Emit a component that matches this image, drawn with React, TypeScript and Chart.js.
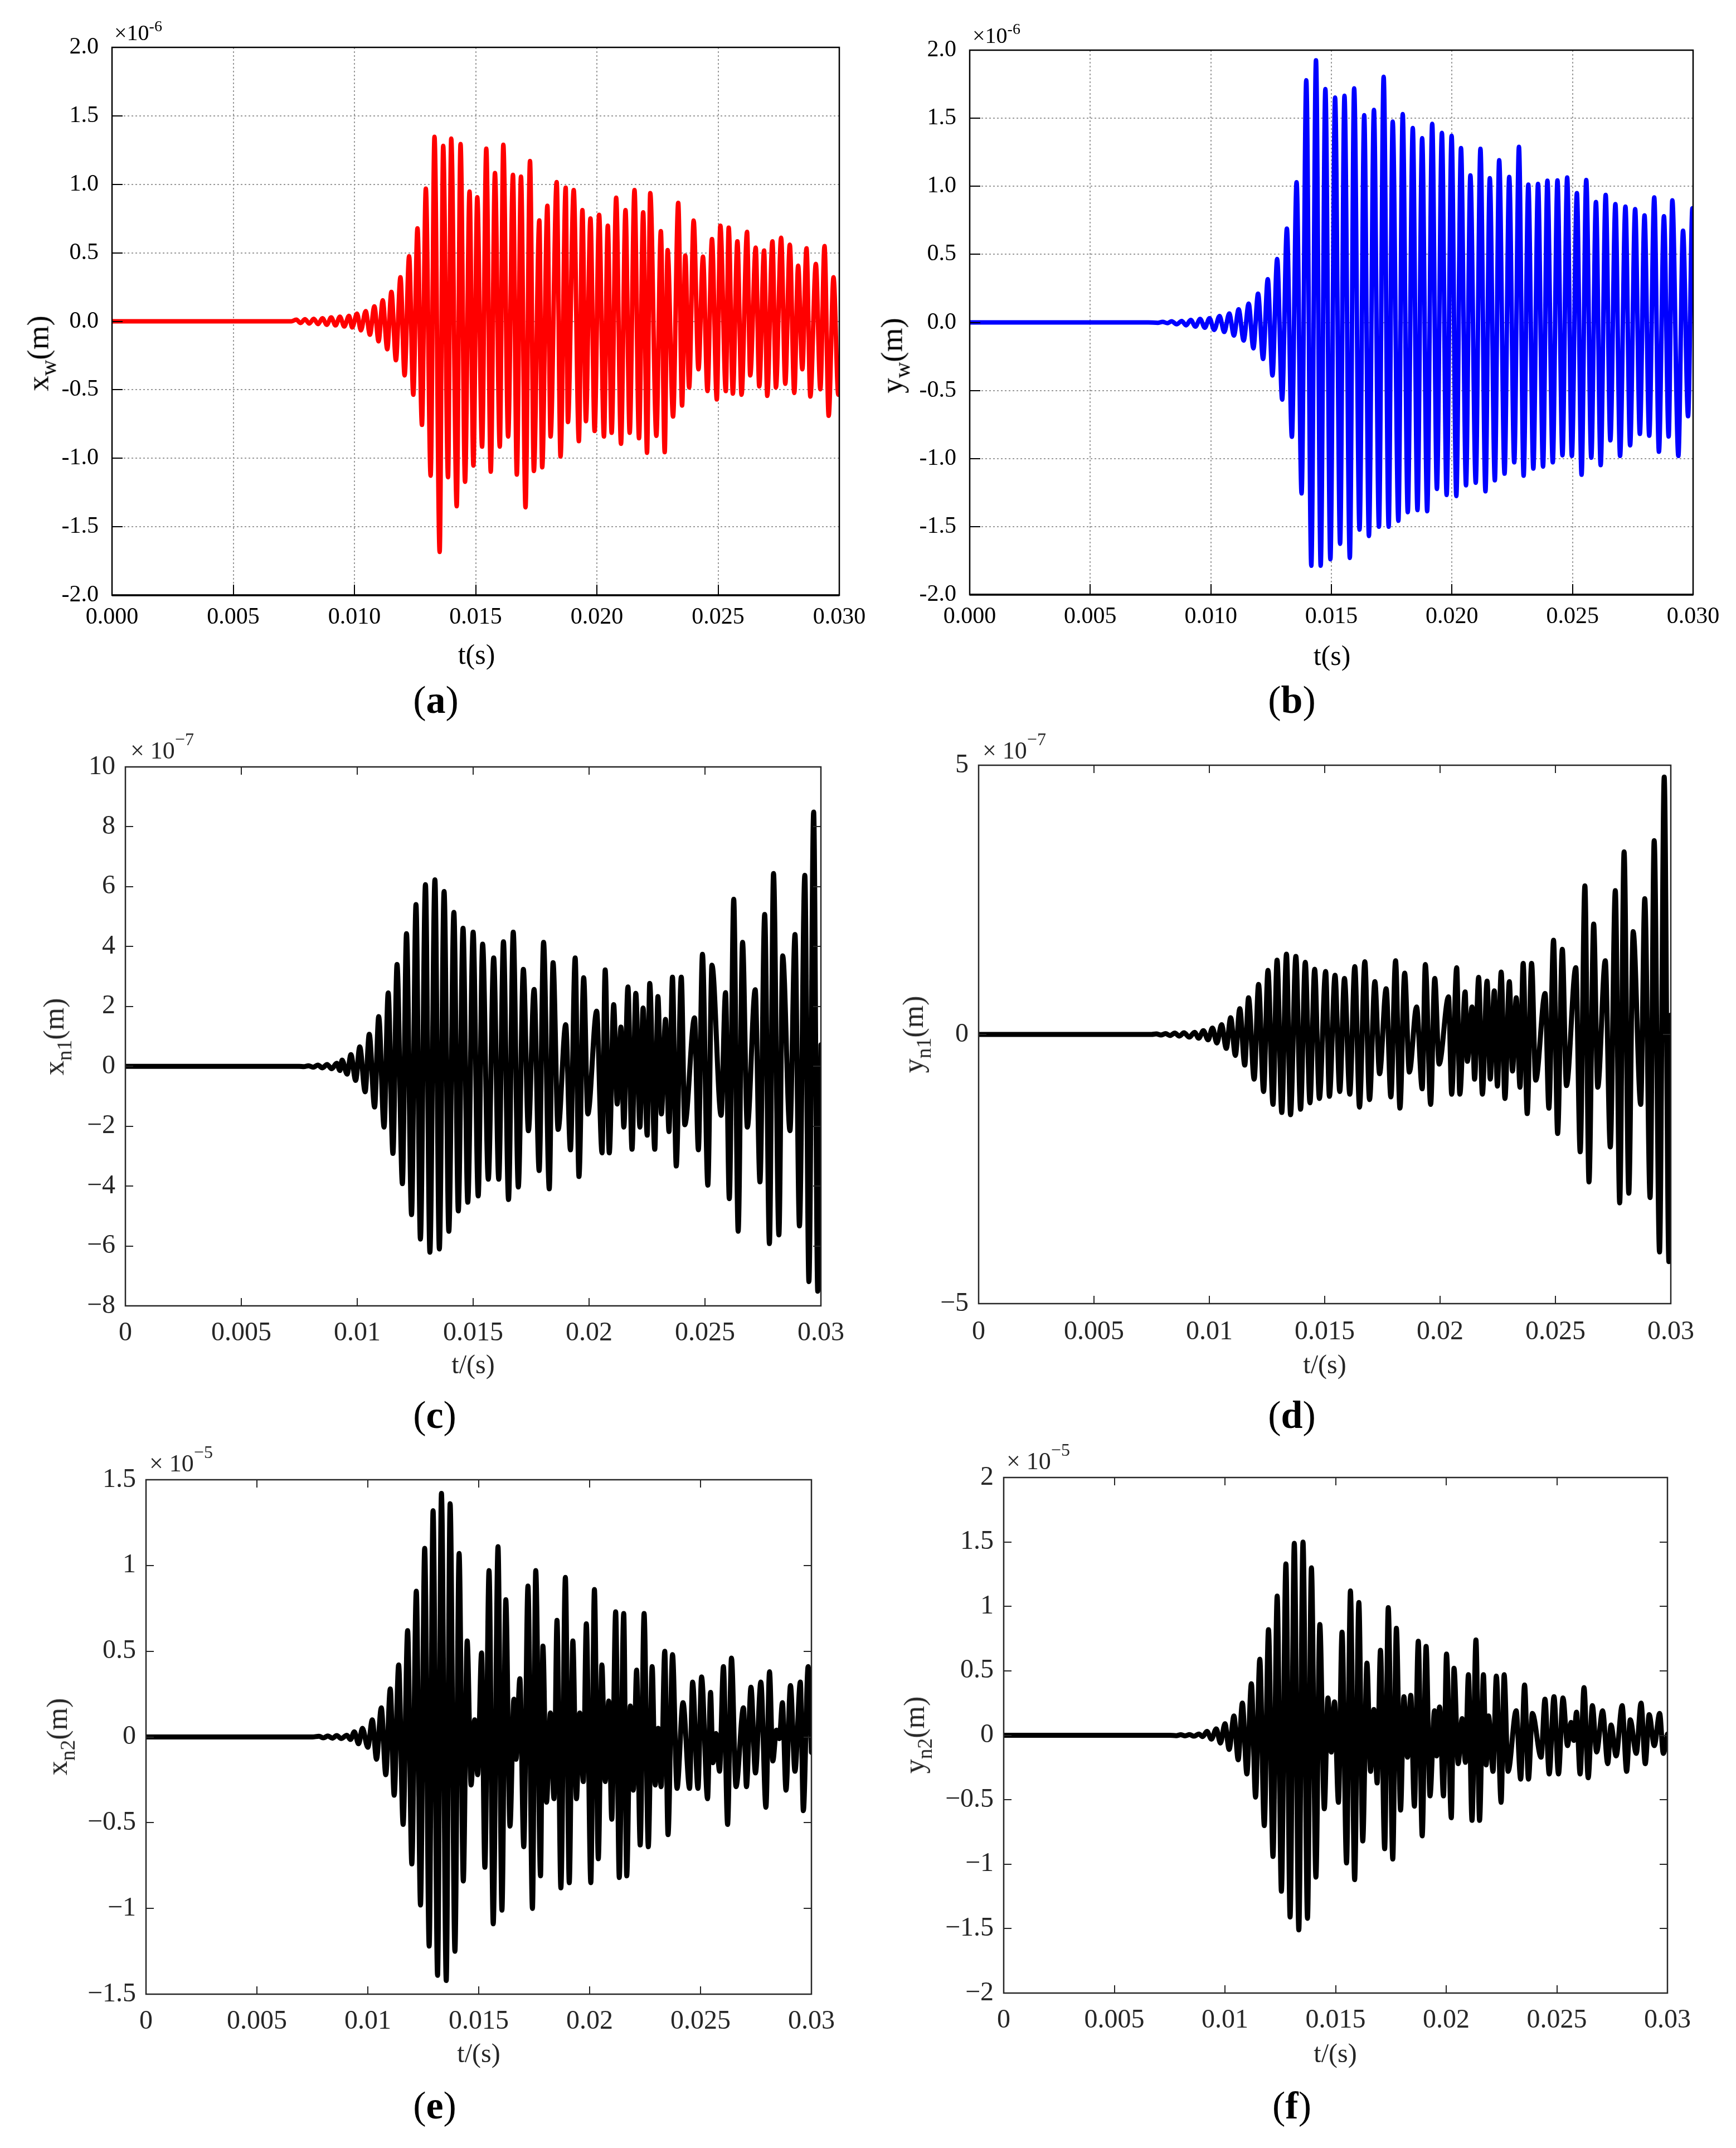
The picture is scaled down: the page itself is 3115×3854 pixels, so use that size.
import React, { useEffect, useRef } from 'react';
import { Chart, registerables } from 'chart.js';

Chart.register(...registerables);

const SERIF = "'Times New Roman', 'Liberation Serif', Tinos, serif";

// ---------- shared ticks ----------
const xTicks = [0, 0.005, 0.01, 0.015, 0.02, 0.025, 0.03];
const xLabelsAB = ['0.000', '0.005', '0.010', '0.015', '0.020', '0.025', '0.030'];
const xLabelsCF = ['0', '0.005', '0.01', '0.015', '0.02', '0.025', '0.03'];
const yTicksAB = [-2, -1.5, -1, -0.5, 0, 0.5, 1, 1.5, 2];
const yLabelsAB = ['-2.0', '-1.5', '-1.0', '-0.5', '0.0', '0.5', '1.0', '1.5', '2.0'];
const yTicksC = [-8, -6, -4, -2, 0, 2, 4, 6, 8, 10];
const yLabelsC = ['\u22128', '\u22126', '\u22124', '\u22122', '0', '2', '4', '6', '8', '10'];
const yTicksD = [-5, 0, 5];
const yLabelsD = ['\u22125', '0', '5'];
const yTicksE = [-1.5, -1, -0.5, 0, 0.5, 1, 1.5];
const yLabelsE = ['\u22121.5', '\u22121', '\u22120.5', '0', '0.5', '1', '1.5'];
const yTicksF = [-2, -1.5, -1, -0.5, 0, 0.5, 1, 1.5, 2];
const yLabelsF = ['\u22122', '\u22121.5', '\u22121', '\u22120.5', '0', '0.5', '1', '1.5', '2'];

// ---------- (a) x_w, units 1e-6 m ----------
const tXw = [0, 0.0074, 0.0076, 0.00778, 0.00796, 0.00814, 0.00832, 0.0085, 0.00868, 0.00886, 0.00904, 0.00922, 0.0094, 0.00958,
  0.009775, 0.009907, 0.010106, 0.010265, 0.010464, 0.010637, 0.010822, 0.010995, 0.011167, 0.011353, 0.011525, 0.011711,
  0.011897, 0.012069, 0.012255, 0.012427, 0.0126, 0.012785, 0.012944, 0.013143, 0.013302, 0.013515, 0.013661, 0.01386,
  0.013992, 0.014218, 0.014377, 0.014562, 0.014748, 0.014907, 0.015066, 0.015265, 0.015438, 0.015623, 0.015796, 0.015995,
  0.016141, 0.01634, 0.016539, 0.016698, 0.01687, 0.017056, 0.017242, 0.017401, 0.017626, 0.017745, 0.017958, 0.01809,
  0.018342, 0.018501, 0.018714, 0.018806, 0.019045, 0.019257, 0.019403, 0.019549, 0.019735, 0.019907, 0.020093, 0.020292,
  0.020451, 0.02061, 0.020796, 0.020995, 0.021181, 0.021353, 0.021552, 0.021738, 0.02191, 0.022069, 0.022202, 0.022454,
  0.022639, 0.022798, 0.022918, 0.023143, 0.023356, 0.023515, 0.023647, 0.023806, 0.023992, 0.024191, 0.024377, 0.024562,
  0.024748, 0.024947, 0.025093, 0.025318, 0.025438, 0.02561, 0.025796, 0.025968, 0.026194, 0.026326, 0.026552, 0.026698,
  0.026897, 0.027029, 0.027241, 0.027387, 0.0276, 0.027772, 0.027958, 0.028143, 0.028302, 0.028475, 0.028647, 0.028806,
  0.029032, 0.029218, 0.02939, 0.029562, 0.029761, 0.02996, 0.03];
const xw = [0, 0, 0.012, -0.012, 0.015, -0.016, 0.018, -0.02, 0.022, -0.025, 0.028, -0.03, 0.034, -0.038,
  0.04, -0.045, 0.056, -0.066, 0.074, -0.098, 0.109, -0.146, 0.154, -0.204, 0.215, -0.284,
  0.321, -0.395, 0.475, -0.536, 0.679, -0.756, 0.968, -1.127, 1.347, -1.684, 1.281, -1.138,
  1.334, -1.35, 1.294, -1.172, 0.947, -1.053, 0.905, -0.915, 1.26, -1.098, 1.082, -0.915,
  1.289, -0.841, 1.069, -1.119, 1.056, -1.358, 1.17, -1.093, 0.737, -1.066, 0.843, -0.841,
  1.016, -0.987, 0.976, -0.735, 0.958, -0.875, 0.812, -0.729, 0.751, -0.801, 0.777, -0.841,
  0.698, -0.814, 0.902, -0.894, 0.812, -0.814, 0.958, -0.854, 0.796, -0.96, 0.936, -0.836,
  0.658, -0.955, 0.52, -0.695, 0.865, -0.615, 0.48, -0.483, 0.735, -0.35, 0.472, -0.509,
  0.6, -0.57, 0.698, -0.509, 0.684, -0.528, 0.584, -0.536, 0.653, -0.395, 0.538, -0.475,
  0.517, -0.544, 0.584, -0.483, 0.61, -0.456, 0.56, -0.523, 0.406, -0.35, 0.533, -0.549,
  0.419, -0.496, 0.549, -0.69, 0.321, -0.536, -0.5];

// ---------- (b) y_w, units 1e-6 m ----------
const tYw = [0, 0.0074, 0.0078, 0.008, 0.0082,
  0.008375, 0.008583, 0.008792, 0.008972, 0.009167, 0.009361, 0.009556, 0.00975, 0.009944, 0.010139, 0.010361, 0.010556,
  0.010764, 0.010958, 0.011153, 0.011361, 0.011569, 0.011764, 0.011958, 0.012167, 0.012361, 0.012556, 0.01275, 0.012958,
  0.013153, 0.013361, 0.013556, 0.013764, 0.013958, 0.014167, 0.014361, 0.014556, 0.01475, 0.014958, 0.015153, 0.015361,
  0.015542, 0.015764, 0.015944, 0.016167, 0.016361, 0.016556, 0.016764, 0.016972, 0.017167, 0.017375, 0.017542, 0.017778,
  0.017958, 0.018167, 0.018375, 0.018569, 0.018764, 0.018972, 0.019181, 0.019375, 0.019583, 0.019778, 0.019986, 0.020181,
  0.020375, 0.020583, 0.020764, 0.020986, 0.021181, 0.021389, 0.021569, 0.021778, 0.021958, 0.022181, 0.022375, 0.022583,
  0.022778, 0.022972, 0.023167, 0.023375, 0.023569, 0.023778, 0.023958, 0.024181, 0.024375, 0.024583, 0.024778, 0.024972,
  0.025181, 0.025375, 0.025569, 0.025778, 0.025972, 0.026167, 0.026375, 0.026569, 0.026778, 0.026972, 0.027194, 0.027389,
  0.027597, 0.027792, 0.027986, 0.028181, 0.028389, 0.028583, 0.028792, 0.028986, 0.029139, 0.029389, 0.029583, 0.029792,
  0.029972, 0.03];
const yw = [0, 0, -0.003, 0.004, -0.005,
  0.008, -0.013, 0.01, -0.021, 0.018, -0.031, 0.026, -0.039, 0.031, -0.055, 0.047, -0.07,
  0.065, -0.096, 0.096, -0.133, 0.138, -0.19, 0.211, -0.268, 0.317, -0.39, 0.466, -0.567,
  0.689, -0.84, 1.03, -1.256, 1.779, -1.787, 1.925, -1.787, 1.714, -1.74, 1.652, -1.626,
  1.665, -1.73, 1.72, -1.522, 1.522, -1.569, 1.561, -1.501, 1.805, -1.501, 1.475, -1.457,
  1.53, -1.394, 1.428, -1.379, 1.353, -1.387, 1.459, -1.223, 1.392, -1.267, 1.371, -1.275,
  1.28, -1.197, 1.08, -1.178, 1.275, -1.241, 1.059, -1.16, 1.191, -1.111, 1.069, -1.028,
  1.29, -1.126, 1.012, -1.074, 1.017, -1.059, 1.041, -1.028, 1.043, -0.976, 1.064, -0.981,
  0.95, -1.119, 1.046, -0.994, 0.884, -1.048, 0.937, -0.866, 0.869, -0.981, 0.851, -0.903,
  0.832, -0.819, 0.786, -0.832, 0.918, -0.95, 0.78, -0.838, 0.897, -0.981, 0.674, -0.689,
  0.838, 0.8];

// ---------- (c) x_n1, units 1e-7 m ----------
const tXn1 = [0, 0.0075, 0.0077, 0.0079, 0.0081, 0.0083, 0.0085, 0.0087, 0.0089,
  0.009114, 0.009251, 0.009346, 0.009564, 0.009728, 0.009932, 0.010109, 0.010341, 0.010518, 0.010749, 0.010926, 0.011158,
  0.011335, 0.01154, 0.011717, 0.011948, 0.012125, 0.012343, 0.012534, 0.012725, 0.012943, 0.013134, 0.013351, 0.013542,
  0.013747, 0.013951, 0.014169, 0.01436, 0.014564, 0.014768, 0.015, 0.015218, 0.015409, 0.015654, 0.015886, 0.016104,
  0.016308, 0.016526, 0.01673, 0.016948, 0.017166, 0.017384, 0.017629, 0.017847, 0.018038, 0.018283, 0.018447, 0.018665,
  0.018992, 0.019196, 0.019401, 0.019564, 0.019768, 0.019946, 0.020327, 0.020559, 0.020695, 0.020872, 0.021063, 0.021213,
  0.021376, 0.021499, 0.021676, 0.021853, 0.022016, 0.022193, 0.02233, 0.022507, 0.022616, 0.022834, 0.02297, 0.02312,
  0.023297, 0.023447, 0.023597, 0.02376, 0.023978, 0.024128, 0.02455, 0.024714, 0.024891, 0.025123, 0.0253, 0.025695,
  0.025886, 0.026049, 0.02624, 0.026431, 0.026621, 0.026826, 0.027166, 0.027371, 0.027575, 0.027779, 0.027956, 0.028188,
  0.028352, 0.028665, 0.028883, 0.029074, 0.029306, 0.029482, 0.029687, 0.029864, 0.03];
const xn1 = [0, 0, -0.01, 0.02, -0.03, 0.04, -0.05, 0.06, -0.08,
  0.1, -0.14, 0.21, -0.26, 0.39, -0.47, 0.65, -0.85, 1.07, -1.36, 1.66, -2.03,
  2.45, -2.91, 3.4, -3.92, 4.43, -4.95, 5.4, -5.77, 6.07, -6.21, 6.23, -6.1,
  5.84, -5.51, 5.14, -4.83, 4.61, -4.54, 4.48, -4.33, 4.08, -3.77, 3.62, -3.77,
  4.16, -4.45, 4.48, -4.03, 3.24, -2.15, 2.57, -3.48, 4.14, -4.09, 3.46, -2.11,
  1.39, -2.79, 3.62, -3.68, 2.96, -1.59, 1.84, -2.89, 3.22, -2.89, 2.06, -1.26,
  1.31, -2.03, 2.65, -2.77, 2.44, -2.03, 1.95, -2.3, 2.77, -2.77, 2.33, -1.59,
  1.57, -2.18, 2.98, -3.33, 2.98, -1.95, 1.62, -2.79, 3.74, -3.97, 3.38, -1.64,
  2.46, -4.42, 5.58, -5.51, 4.14, -2.03, 2.56, -3.86, 5.07, -5.92, 6.44, -5.63,
  3.69, -2.15, 4.4, -5.33, 6.38, -7.19, 8.49, -7.51, 0.72];

// ---------- (d) y_n1, units 1e-7 m ----------
const tYn1 = [0, 0.0075, 0.0077, 0.0079, 0.0081, 0.0083, 0.0085, 0.0087, 0.0089,
  0.00913, 0.009361, 0.009538, 0.009742, 0.009946, 0.010136, 0.010326, 0.01053, 0.010734, 0.010924, 0.011128, 0.011318,
  0.011535, 0.011698, 0.011943, 0.012133, 0.012351, 0.012541, 0.012758, 0.012935, 0.013139, 0.013342, 0.013519, 0.01375,
  0.013954, 0.014158, 0.014361, 0.014565, 0.014769, 0.015041, 0.015204, 0.015448, 0.015652, 0.015856, 0.016087, 0.016304,
  0.016508, 0.016739, 0.016943, 0.017174, 0.017378, 0.017663, 0.017867, 0.018071, 0.018261, 0.018465, 0.018668, 0.018981,
  0.019226, 0.019361, 0.019592, 0.019769, 0.019959, 0.020367, 0.020503, 0.02072, 0.020856, 0.021087, 0.021182, 0.021386,
  0.021495, 0.021671, 0.021834, 0.022038, 0.022174, 0.022351, 0.022486, 0.022649, 0.022812, 0.023003, 0.023139, 0.023302,
  0.023465, 0.023601, 0.023777, 0.023967, 0.024144, 0.024552, 0.024715, 0.024918, 0.025095, 0.025299, 0.025476, 0.025883,
  0.026073, 0.026277, 0.026454, 0.026658, 0.026834, 0.02716, 0.027378, 0.027595, 0.027785, 0.027976, 0.028179, 0.02837,
  0.028696, 0.028872, 0.029103, 0.02928, 0.029511, 0.029715, 0.029918, 0.03];
const yn1 = [0, 0, 0.01, -0.01, 0.015, -0.02, 0.025, -0.03, 0.03,
  -0.05, 0.04, -0.07, 0.07, -0.1, 0.12, -0.16, 0.18, -0.26, 0.31, -0.39, 0.48,
  -0.57, 0.68, -0.83, 0.93, -1.06, 1.19, -1.3, 1.38, -1.45, 1.49, -1.49, 1.45,
  -1.39, 1.34, -1.27, 1.21, -1.19, 1.17, -1.15, 1.1, -1.06, 1.04, -1.11, 1.26,
  -1.35, 1.35, -1.21, 0.98, -0.73, 0.85, -1.16, 1.37, -1.37, 1.14, -0.7, 0.51,
  -1.01, 1.3, -1.3, 1.04, -0.55, 0.7, -1.11, 1.24, -1.11, 0.79, -0.5, 0.51,
  -0.83, 1.06, -1.11, 0.99, -0.83, 0.81, -0.96, 1.16, -1.19, 0.98, -0.68, 0.68,
  -0.98, 1.32, -1.47, 1.32, -0.85, 0.76, -1.37, 1.75, -1.84, 1.58, -0.95, 1.24,
  -2.18, 2.76, -2.74, 2.05, -0.98, 1.37, -2.09, 2.67, -3.13, 3.39, -2.95, 1.91,
  -1.3, 2.52, -3.03, 3.6, -4.04, 4.78, -4.22, 0.36];

// ---------- (e) x_n2, units 1e-5 m ----------
const tXn2 = [0, 0.0075, 0.0078, 0.008, 0.0082, 0.0084, 0.0086, 0.0088,
  0.009055, 0.009217, 0.009393, 0.009582, 0.009757, 0.01, 0.010202, 0.010391, 0.010607, 0.01081, 0.011012, 0.011188,
  0.01139, 0.011592, 0.011795, 0.011984, 0.012186, 0.012375, 0.012564, 0.012766, 0.012942, 0.013144, 0.01332, 0.013536,
  0.013711, 0.013927, 0.014116, 0.014305, 0.01448, 0.014656, 0.014818, 0.014953, 0.015128, 0.015277, 0.015465, 0.015654,
  0.01587, 0.016046, 0.016221, 0.01641, 0.016586, 0.01668, 0.016855, 0.017031, 0.01722, 0.017422, 0.017571, 0.017787,
  0.017894, 0.018057, 0.018232, 0.018394, 0.018529, 0.018704, 0.018907, 0.019082, 0.019244, 0.019406, 0.019554, 0.019716,
  0.019851, 0.020054, 0.020216, 0.020391, 0.020553, 0.020701, 0.020863, 0.020998, 0.021174, 0.021336, 0.021538, 0.021673,
  0.021835, 0.02197, 0.022118, 0.02228, 0.022456, 0.022645, 0.02282, 0.022955, 0.02309, 0.023225, 0.023387, 0.023535,
  0.023738, 0.02394, 0.02421, 0.024507, 0.024642, 0.024885, 0.025047, 0.025317, 0.025452, 0.02556, 0.025695, 0.025857,
  0.026032, 0.026221, 0.026396, 0.026599, 0.026936, 0.027071, 0.027274, 0.027476, 0.027719, 0.027948, 0.02811, 0.028259,
  0.028421, 0.028556, 0.028691, 0.028853, 0.029055, 0.029257, 0.0295, 0.029635, 0.029851, 0.03];
const xn2 = [0, 0, 0.004, -0.005, 0.006, -0.007, 0.008, -0.009,
  0.01, -0.015, 0.03, -0.04, 0.05, -0.06, 0.1, -0.13, 0.17, -0.22, 0.28, -0.34,
  0.42, -0.51, 0.62, -0.74, 0.85, -0.98, 1.1, -1.22, 1.32, -1.39, 1.42, -1.42,
  1.36, -1.25, 1.07, -0.84, 0.56, -0.28, 0.1, -0.22, 0.49, -0.76, 0.97, -1.09,
  1.11, -1.01, 0.8, -0.52, 0.22, -0.13, 0.34, -0.64, 0.88, -1.0, 0.97, -0.81,
  0.53, -0.38, 0.14, -0.36, 0.68, -0.88, 0.93, -0.85, 0.56, -0.36, 0.14, -0.26,
  0.66, -0.85, 0.86, -0.71, 0.42, -0.26, 0.21, -0.48, 0.73, -0.82, 0.72, -0.81,
  0.18, -0.31, 0.39, -0.63, 0.72, -0.64, 0.41, -0.28, 0.05, -0.29, 0.5, -0.57,
  0.48, -0.3, 0.2, -0.3, 0.32, -0.3, 0.35, -0.36, 0.26, -0.15, 0.02, -0.2,
  0.41, -0.51, 0.46, -0.29, 0.17, -0.29, 0.29, -0.21, 0.32, -0.41, 0.38, -0.14,
  0.04, -0.01, 0.2, -0.31, 0.3, -0.2, 0.32, -0.43, 0.41, -0.09];

// ---------- (f) y_n2, units 1e-5 m ----------
const tYn2 = [0, 0.0075, 0.0078, 0.008, 0.0082, 0.0084, 0.0086,
  0.008819, 0.008996, 0.009186, 0.009389, 0.009607, 0.009796, 0.01, 0.01019, 0.010407, 0.010597, 0.010787, 0.010991,
  0.011194, 0.011384, 0.011574, 0.011778, 0.011968, 0.012171, 0.012361, 0.012551, 0.012755, 0.012944, 0.013134, 0.013338,
  0.013528, 0.013731, 0.013908, 0.014111, 0.014288, 0.014491, 0.014654, 0.014803, 0.014953, 0.015129, 0.015292, 0.015495,
  0.015672, 0.015862, 0.016052, 0.016228, 0.016418, 0.016581, 0.01673, 0.016879, 0.017029, 0.017219, 0.017381, 0.017585,
  0.017748, 0.017938, 0.018087, 0.01825, 0.018399, 0.018562, 0.018738, 0.018915, 0.019091, 0.019268, 0.019471, 0.019566,
  0.019702, 0.019878, 0.020014, 0.020231, 0.020353, 0.020543, 0.02072, 0.020869, 0.021004, 0.021167, 0.021344, 0.021507,
  0.021683, 0.021805, 0.021914, 0.022117, 0.022266, 0.022483, 0.022619, 0.022795, 0.023162, 0.023365, 0.023542, 0.023718,
  0.023895, 0.024288, 0.024464, 0.024655, 0.024872, 0.025075, 0.025279, 0.025482, 0.025645, 0.025767, 0.025889, 0.026052,
  0.026229, 0.026418, 0.026608, 0.026798, 0.02707, 0.0273, 0.027449, 0.02768, 0.027952, 0.028155, 0.028318, 0.02859,
  0.028807, 0.028997, 0.029173, 0.029404, 0.029648, 0.029811, 0.03];
const yn2 = [0, 0, -0.003, 0.004, -0.004, 0.005, -0.007,
  0.01, -0.01, 0.03, -0.03, 0.05, -0.06, 0.09, -0.11, 0.15, -0.19, 0.25, -0.3,
  0.4, -0.48, 0.59, -0.7, 0.82, -0.94, 1.08, -1.21, 1.33, -1.41, 1.49, -1.51,
  1.5, -1.42, 1.3, -1.1, 0.86, -0.57, 0.29, -0.13, 0.26, -0.52, 0.8, -0.99,
  1.12, -1.12, 1.03, -0.82, 0.56, -0.28, 0.2, -0.37, 0.66, -0.88, 0.99, -0.96,
  0.83, -0.58, 0.3, -0.17, 0.31, -0.55, 0.73, -0.78, 0.69, -0.47, 0.19, -0.16,
  0.22, -0.47, 0.63, -0.64, 0.52, -0.22, 0.13, -0.21, 0.47, -0.66, 0.74, -0.66,
  0.47, -0.23, 0.15, -0.28, 0.46, -0.52, 0.47, -0.28, 0.19, -0.34, 0.39, -0.34,
  0.17, -0.17, 0.28, -0.3, 0.3, -0.3, 0.29, -0.08, 0.1, -0.04, 0.18, -0.3,
  0.37, -0.33, 0.23, -0.13, 0.19, -0.22, 0.08, -0.16, 0.23, -0.28, 0.12, -0.14,
  0.25, -0.22, 0.16, -0.08, 0.17, -0.14, 0.01];

// ---------- panel configuration ----------
type PanelCfg = {
  key: string;
  t: number[];
  v: number[];
  color: string;
  lw: number;
  L: number; R: number; T: number; B: number;
  yTicks: number[];
  yLabels: string[];
  xLabels: string[];
  grid: boolean;
  fs: number;
  textColor: string;
  frameColor: string;
  xPad: number;
  yPad: number;
  tickLen: number;
  allSides: boolean;
  exp: { x: number; base: number; main: string; sup: string; fs: number; sfs: number; raise: number };
  ytitle: { cx: number; cy: number; main: string; sub: string; fs: number };
  xtitle: { cx: number; cy: number; text: string; fs: number };
  label: { cx: number; cy: number; letter: string };
};

const panels: PanelCfg[] = [
  {
    key: 'a', t: tXw, v: xw, color: '#ff0000', lw: 8, L: 201, R: 1506, T: 85, B: 1068,
    yTicks: yTicksAB, yLabels: yLabelsAB, xLabels: xLabelsAB, grid: true, fs: 42, textColor: '#000', frameColor: '#000',
    xPad: 15, yPad: 24, tickLen: 19, allSides: false,
    exp: { x: 205, base: 72, main: '\u00d710', sup: '-6', fs: 40, sfs: 28, raise: 16 },
    ytitle: { cx: 68, cy: 634, main: 'x', sub: 'w', fs: 55 },
    xtitle: { cx: 855, cy: 1174, text: 't(s)', fs: 50 },
    label: { cx: 782, cy: 1256, letter: 'a' },
  },
  {
    key: 'b', t: tYw, v: yw, color: '#0000ff', lw: 8, L: 1740, R: 3038, T: 90, B: 1067,
    yTicks: yTicksAB, yLabels: yLabelsAB, xLabels: xLabelsAB, grid: true, fs: 42, textColor: '#000', frameColor: '#000',
    xPad: 15, yPad: 24, tickLen: 19, allSides: false,
    exp: { x: 1745, base: 77, main: '\u00d710', sup: '-6', fs: 40, sfs: 28, raise: 16 },
    ytitle: { cx: 1600, cy: 638, main: 'y', sub: 'w', fs: 55 },
    xtitle: { cx: 2390, cy: 1176, text: 't(s)', fs: 50 },
    label: { cx: 2318, cy: 1256, letter: 'b' },
  },
  {
    key: 'c', t: tXn1, v: xn1, color: '#000000', lw: 9, L: 225, R: 1473, T: 1376, B: 2343,
    yTicks: yTicksC, yLabels: yLabelsC, xLabels: xLabelsCF, grid: false, fs: 48, textColor: '#262626', frameColor: '#262626',
    xPad: 21, yPad: 18, tickLen: 14, allSides: true,
    exp: { x: 234, base: 1362, main: '\u00d7 10', sup: '\u22127', fs: 44, sfs: 32, raise: 24 },
    ytitle: { cx: 97, cy: 1860, main: 'x', sub: 'n1', fs: 52 },
    xtitle: { cx: 849, cy: 2448, text: 't/(s)', fs: 48 },
    label: { cx: 780, cy: 2539, letter: 'c' },
  },
  {
    key: 'd', t: tYn1, v: yn1, color: '#000000', lw: 9, L: 1756, R: 2998, T: 1373, B: 2339,
    yTicks: yTicksD, yLabels: yLabelsD, xLabels: xLabelsCF, grid: false, fs: 48, textColor: '#262626', frameColor: '#262626',
    xPad: 23, yPad: 18, tickLen: 14, allSides: true,
    exp: { x: 1763, base: 1362, main: '\u00d7 10', sup: '\u22127', fs: 44, sfs: 32, raise: 24 },
    ytitle: { cx: 1639, cy: 1856, main: 'y', sub: 'n1', fs: 52 },
    xtitle: { cx: 2377, cy: 2448, text: 't/(s)', fs: 48 },
    label: { cx: 2318, cy: 2539, letter: 'd' },
  },
  {
    key: 'e', t: tXn2, v: xn2, color: '#000000', lw: 9, L: 262, R: 1456, T: 2655, B: 3578,
    yTicks: yTicksE, yLabels: yLabelsE, xLabels: xLabelsCF, grid: false, fs: 48, textColor: '#262626', frameColor: '#262626',
    xPad: 21, yPad: 18, tickLen: 14, allSides: true,
    exp: { x: 268, base: 2641, main: '\u00d7 10', sup: '\u22125', fs: 44, sfs: 32, raise: 24 },
    ytitle: { cx: 103, cy: 3116, main: 'x', sub: 'n2', fs: 52 },
    xtitle: { cx: 859, cy: 3684, text: 't/(s)', fs: 48 },
    label: { cx: 780, cy: 3778, letter: 'e' },
  },
  {
    key: 'f', t: tYn2, v: yn2, color: '#000000', lw: 9, L: 1801, R: 2992, T: 2651, B: 3576,
    yTicks: yTicksF, yLabels: yLabelsF, xLabels: xLabelsCF, grid: false, fs: 48, textColor: '#262626', frameColor: '#262626',
    xPad: 21, yPad: 18, tickLen: 14, allSides: true,
    exp: { x: 1806, base: 2637, main: '\u00d7 10', sup: '\u22125', fs: 44, sfs: 32, raise: 24 },
    ytitle: { cx: 1641, cy: 3113, main: 'y', sub: 'n2', fs: 52 },
    xtitle: { cx: 2396, cy: 3684, text: 't/(s)', fs: 48 },
    label: { cx: 2318, cy: 3778, letter: 'f' },
  },
];

const YW = 200;
const PT = 80;
const PR = 90;
const XH = 110;

function PanelChart({ cfg }: { cfg: PanelCfg }) {
  const ref = useRef<HTMLCanvasElement>(null);
  const cw = cfg.R - cfg.L + YW + PR;
  const ch = cfg.B - cfg.T + PT + XH;

  useEffect(() => {
    const canvas = ref.current;
    if (!canvas) return;
    const yMin = cfg.yTicks[0];
    const yMax = cfg.yTicks[cfg.yTicks.length - 1];

    const framePlugin = {
      id: 'frame_' + cfg.key,
      beforeDatasetsDraw(chart: any) {
        if (!cfg.grid) return;
        const { ctx, chartArea: a, scales } = chart;
        ctx.save();
        ctx.strokeStyle = '#9a9a9a';
        ctx.lineWidth = 2;
        ctx.setLineDash([3, 4]);
        xTicks.forEach((v) => {
          const px = Math.round(scales.x.getPixelForValue(v));
          if (px <= a.left + 1 || px >= a.right - 1) return;
          ctx.beginPath();
          ctx.moveTo(px, a.top);
          ctx.lineTo(px, a.bottom);
          ctx.stroke();
        });
        cfg.yTicks.forEach((v) => {
          const py = Math.round(scales.y.getPixelForValue(v));
          if (py <= a.top + 1 || py >= a.bottom - 1) return;
          ctx.beginPath();
          ctx.moveTo(a.left, py);
          ctx.lineTo(a.right, py);
          ctx.stroke();
        });
        ctx.restore();
      },
      afterDatasetsDraw(chart: any) {
        const { ctx, chartArea: a, scales } = chart;
        ctx.save();
        ctx.setLineDash([]);
        ctx.strokeStyle = cfg.frameColor;
        ctx.lineWidth = 2.5;
        ctx.strokeRect(a.left, a.top, a.right - a.left, a.bottom - a.top);
        if (cfg.grid) {
          ctx.lineWidth = 3.5;
          ctx.beginPath();
          ctx.moveTo(a.left, a.bottom);
          ctx.lineTo(a.right, a.bottom);
          ctx.stroke();
        }
        ctx.lineWidth = 2;
        const L = cfg.tickLen;
        xTicks.forEach((v) => {
          const px = Math.round(scales.x.getPixelForValue(v));
          ctx.beginPath();
          ctx.moveTo(px, a.bottom);
          ctx.lineTo(px, a.bottom - L);
          if (cfg.allSides) {
            ctx.moveTo(px, a.top);
            ctx.lineTo(px, a.top + L);
          }
          ctx.stroke();
        });
        cfg.yTicks.forEach((v) => {
          const py = Math.round(scales.y.getPixelForValue(v));
          ctx.beginPath();
          ctx.moveTo(a.left, py);
          ctx.lineTo(a.left + L, py);
          if (cfg.allSides) {
            ctx.moveTo(a.right, py);
            ctx.lineTo(a.right - L, py);
          }
          ctx.stroke();
        });
        ctx.restore();
      },
    };

    const chart = new Chart(canvas, {
      type: 'line',
      data: {
        datasets: [
          {
            data: cfg.t.map((x, i) => ({ x, y: cfg.v[i] })),
            borderColor: cfg.color,
            borderWidth: cfg.lw,
            pointRadius: 0,
            fill: false,
            cubicInterpolationMode: 'monotone',
            borderJoinStyle: 'round',
            borderCapStyle: 'round',
          } as any,
        ],
      },
      options: {
        animation: false,
        responsive: false,
        devicePixelRatio: 1,
        layout: { padding: { top: PT, right: PR, left: 0, bottom: 0 } },
        plugins: { legend: { display: false }, tooltip: { enabled: false } },
        events: [],
        scales: {
          x: {
            type: 'linear',
            min: 0,
            max: 0.03,
            afterBuildTicks: (s: any) => {
              s.ticks = xTicks.map((value) => ({ value }));
            },
            afterFit: (s: any) => {
              s.height = XH;
            },
            grid: { display: false, drawTicks: false },
            border: { display: false },
            ticks: {
              autoSkip: false,
              maxRotation: 0,
              minRotation: 0,
              padding: cfg.xPad,
              color: cfg.textColor,
              font: { family: SERIF, size: cfg.fs },
              callback: (_v: any, i: number) => cfg.xLabels[i],
            },
          },
          y: {
            type: 'linear',
            min: yMin,
            max: yMax,
            afterBuildTicks: (s: any) => {
              s.ticks = cfg.yTicks.map((value) => ({ value }));
            },
            afterFit: (s: any) => {
              s.width = YW;
            },
            grid: { display: false, drawTicks: false },
            border: { display: false },
            ticks: {
              autoSkip: false,
              padding: cfg.yPad,
              color: cfg.textColor,
              font: { family: SERIF, size: cfg.fs },
              callback: (_v: any, i: number) => cfg.yLabels[i],
            },
          },
        },
      } as any,
      plugins: [framePlugin],
    });
    return () => chart.destroy();
  }, [cfg]);

  return (
    <canvas
      ref={ref}
      width={cw}
      height={ch}
      style={{ position: 'absolute', left: cfg.L - YW, top: cfg.T - PT, width: cw, height: ch }}
    />
  );
}

function PanelText({ cfg }: { cfg: PanelCfg }) {
  const e = cfg.exp;
  const yt = cfg.ytitle;
  const xt = cfg.xtitle;
  const lb = cfg.label;
  return (
    <>
      <div
        style={{
          position: 'absolute',
          left: e.x,
          top: e.base - 0.8375 * e.fs,
          fontSize: e.fs,
          lineHeight: 1,
          whiteSpace: 'nowrap',
          color: cfg.textColor,
          fontFamily: SERIF,
        }}
      >
        {e.main}
        <span style={{ fontSize: e.sfs, position: 'relative', top: -e.raise }}>{e.sup}</span>
      </div>
      <div
        style={{
          position: 'absolute',
          left: yt.cx,
          top: yt.cy,
          transform: 'translate(-50%, -50%) rotate(-90deg)',
          fontSize: yt.fs,
          lineHeight: 1,
          whiteSpace: 'nowrap',
          color: cfg.textColor,
          fontFamily: SERIF,
        }}
      >
        {yt.main}
        <span style={{ fontSize: yt.fs * 0.72, position: 'relative', top: yt.fs * 0.26 }}>{yt.sub}</span>
        (m)
      </div>
      <div
        style={{
          position: 'absolute',
          left: xt.cx,
          top: xt.cy,
          transform: 'translate(-50%, -50%)',
          fontSize: xt.fs,
          lineHeight: 1,
          whiteSpace: 'nowrap',
          color: cfg.textColor,
          fontFamily: SERIF,
        }}
      >
        {xt.text}
      </div>
      <div
        style={{
          position: 'absolute',
          left: lb.cx,
          top: lb.cy,
          transform: 'translate(-50%, -50%)',
          fontSize: 70,
          lineHeight: 1,
          whiteSpace: 'nowrap',
          color: '#000',
          fontFamily: SERIF,
        }}
      >
        (<b>{lb.letter}</b>)
      </div>
    </>
  );
}

export default function App() {
  return (
    <div
      style={{
        position: 'absolute',
        left: 0,
        top: 0,
        width: 3115,
        height: 3854,
        background: '#ffffff',
        overflow: 'hidden',
        fontFamily: SERIF,
      }}
    >
      {panels.map((p) => (
        <PanelChart key={'c' + p.key} cfg={p} />
      ))}
      {panels.map((p) => (
        <PanelText key={'t' + p.key} cfg={p} />
      ))}
    </div>
  );
}
